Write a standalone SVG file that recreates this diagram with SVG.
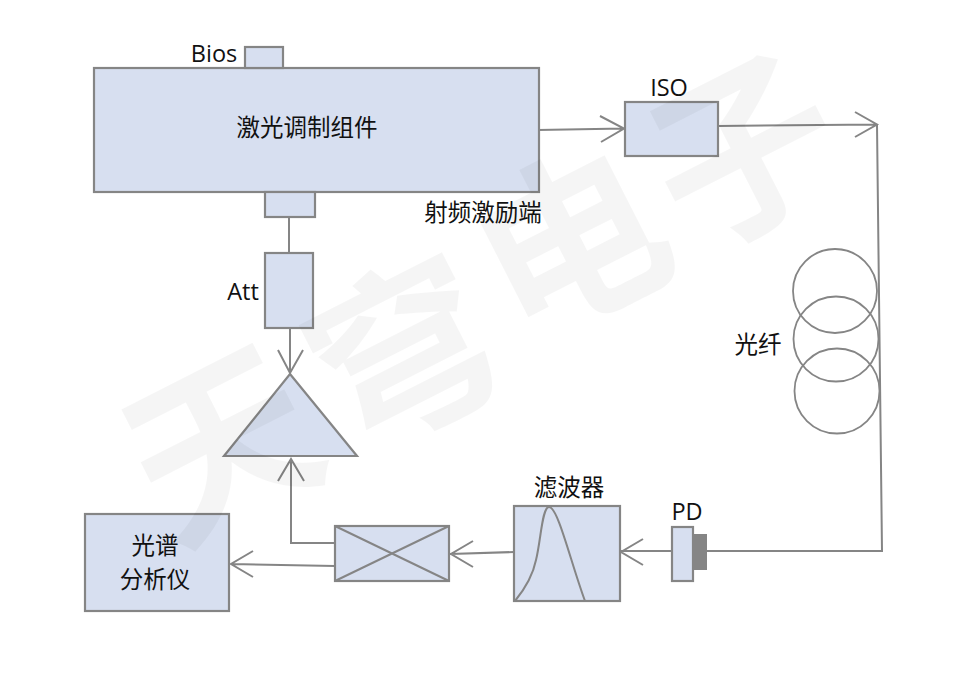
<svg xmlns="http://www.w3.org/2000/svg" width="975" height="697" viewBox="0 0 975 697">
<style>
.n{fill:#d7dff0;stroke:#858585;stroke-width:2.200}
.l{fill:none;stroke:#858585;stroke-width:2;stroke-linejoin:miter}
.t{font-family:"Open Sans","Noto Sans CJK SC",sans-serif;font-size:23.500px;fill:#111;text-anchor:middle}
.w{font-family:"Noto Sans CJK SC",sans-serif;font-weight:700;font-size:185px;fill:#000;fill-opacity:.04;text-anchor:middle}
</style>
<rect width="975" height="697" fill="#fff"/>
<g id="connectors">
<path class="l" d="M289 217V253M290 328V373M278 350L290 373L303 350"/>
<path class="l" d="M538 130L624 128.500M600 116L624 128.500L601 142"/>
<path class="l" d="M718 126L877 124.500M855 112L877 124.500L855 137M877 124.500L882 551H706"/>
<path class="l" d="M672 551H621M643 539L621 552L643 565"/>
<path class="l" d="M514 552L450 554M473 541L451 554L473 567"/>
<path class="l" d="M335 543H291V459M278 481L291 459L304 481"/>
<path class="l" d="M335 566L231 564M253 551L231 564L253 577"/>
</g>
<g id="laser"><rect class="n" x="94" y="68" width="445" height="124"/><text class="t" x="307" y="136">激光调制组件</text></g>
<g id="bios"><rect class="n" x="245" y="47" width="38" height="21"/><text class="t" x="214" y="62">Bios</text></g>
<g id="rf"><rect class="n" x="265" y="192" width="50" height="25"/><text class="t" x="483" y="221">射频激励端</text></g>
<g id="att"><rect class="n" x="265" y="253" width="48" height="75"/><text class="t" x="243" y="300">Att</text></g>
<g id="iso"><rect class="n" x="625" y="102" width="93" height="54"/><text class="t" x="669" y="96">ISO</text></g>
<g id="fiber"><g fill="none" stroke="#858585" stroke-width="1.800"><circle cx="835" cy="291" r="42"/><circle cx="836" cy="339" r="42.500"/><circle cx="837" cy="391" r="42.500"/></g><text class="t" x="758" y="353">光纤</text></g>
<g id="amp"><path class="n" d="M290 374L357 456H224Z"/></g>
<g id="spectrum"><rect class="n" x="85" y="514" width="144" height="97"/><text class="t" x="155" y="554">光谱</text><text class="t" x="155" y="588">分析仪</text></g>
<g id="mixer"><rect class="n" x="335" y="526" width="114" height="55"/><path class="l" d="M335 526L449 581M449 526L335 581"/></g>
<g id="filter"><rect class="n" x="514" y="506" width="106" height="95"/><path class="l" d="M515 601C528 585 534 570 536 560C541 540 542 507 549 507C558 507 570 560 585 601"/><text class="t" x="569" y="496">滤波器</text></g>
<g id="pd"><rect class="n" x="672" y="527" width="21" height="54"/><rect x="693" y="534" width="14" height="36" fill="#858585"/><text class="t" x="687" y="520">PD</text></g>
<g id="watermark"><text class="w" transform="translate(253 505) rotate(-27)">天</text><text class="w" transform="translate(435 415) rotate(-27)">穹</text><text class="w" transform="translate(602 303) rotate(-27)">电</text><text class="w" transform="translate(775 212) rotate(-27)">子</text></g>
</svg>
